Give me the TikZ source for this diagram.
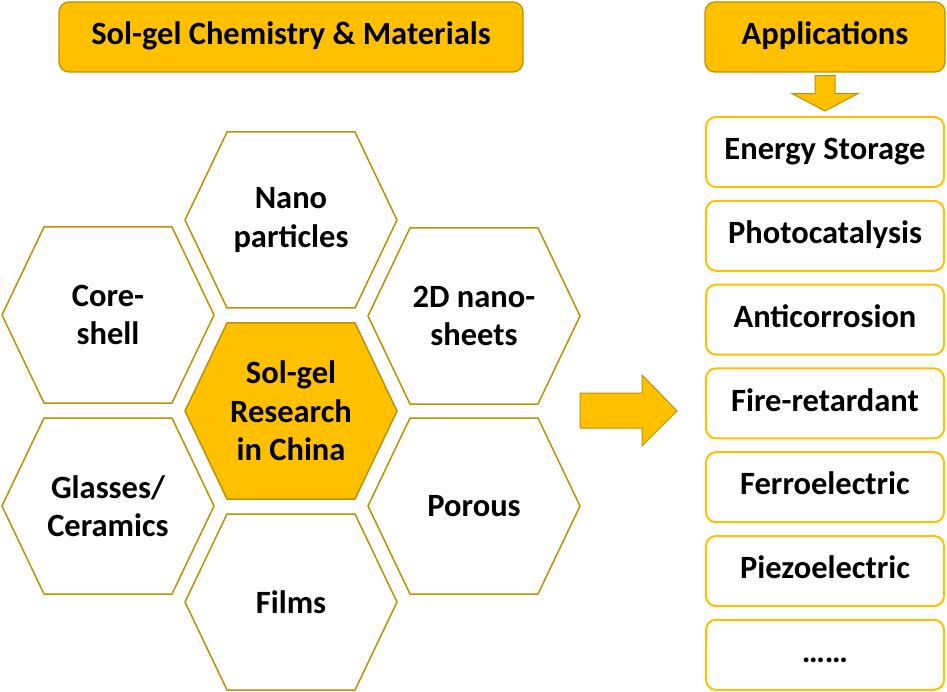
\documentclass[tikz,border=0pt]{standalone}
\usepackage{fontspec}
\setmainfont{Carlito}
\usepackage{tikz}
\usetikzlibrary{calc,positioning}

\definecolor{gold}{HTML}{FFC000}
\definecolor{darkgold}{HTML}{BF9000}

\tikzset{
  bigfont/.style={font=\bfseries\fontsize{32.5}{38.5}\selectfont},
  celltext/.style={bigfont, align=center},
  hexline/.style={draw=darkgold, line width=1.5pt, line join=miter},
  headbox/.style={bigfont, draw=darkgold, fill=gold, line width=1.2pt,
    rounded corners=10pt, minimum height=70pt},
  appbox/.style={bigfont, draw=gold, fill=white, line width=2pt,
    rounded corners=10pt, minimum width=238pt, minimum height=70pt},
  blockarrow/.style={draw=darkgold, fill=gold, line width=1pt, line join=miter}
}

% one honeycomb cell: name, centre, fill, text
\newcommand{\hexcell}[4]{%
  \draw [hexline, fill=#3] ($(#2)+(-106,0)$) -- ++(42,-88) -- ++(128,0)
    -- ++(42,88) -- ++(-42,88) -- ++(-128,0) -- cycle;
  \node [celltext] (#1) at (#2) {#4};}

\begin{document}
\begin{tikzpicture}[x=1pt, y=-1pt]
\useasboundingbox (0,0) rectangle (947,692);

% Headers
\node [headbox, minimum width=464pt] (chem) at (291,37) {\strut Sol-gel Chemistry \& Materials};
\node [headbox, minimum width=240pt] (apps) at (825,37) {\strut Applications};

% Honeycomb
\hexcell{nano}{291,220}{white}{Nano\\particles}
\hexcell{core}{108,315}{white}{Core-\\shell}
\hexcell{sheet}{474,316}{white}{2D nano-\\sheets}
\hexcell{centre}{291,411}{gold}{Sol-gel\\Research\\in China}
\hexcell{glass}{108,506}{white}{Glasses/\\Ceramics}
\hexcell{porous}{474,506}{white}{Porous}
\hexcell{films}{291,602}{white}{Films}

% Arrow to the applications
\draw [blockarrow] (580,393) -- (642,393) -- (642,375) -- (677,411)
  -- (642,446) -- (642,428) -- (580,428) -- cycle;

% Applications column
\foreach \lbl [count=\i] in {Energy Storage, Photocatalysis, Anticorrosion,
    Fire-retardant, Ferroelectric, Piezoelectric, ……}
  \node [appbox] (app\i) at (825,{152+83.8*(\i-1)}) {\strut\lbl};

\draw [blockarrow] ($(apps.south)+(-10,3)$) -- ++(0,18) -- ++(-23,0)
  -- ($(app1.north)+(0,-5)$) -- ($(apps.south)+(33,21)$) -- ++(-23,0)
  -- ++(0,-18) -- cycle;
\end{tikzpicture}
\end{document}
